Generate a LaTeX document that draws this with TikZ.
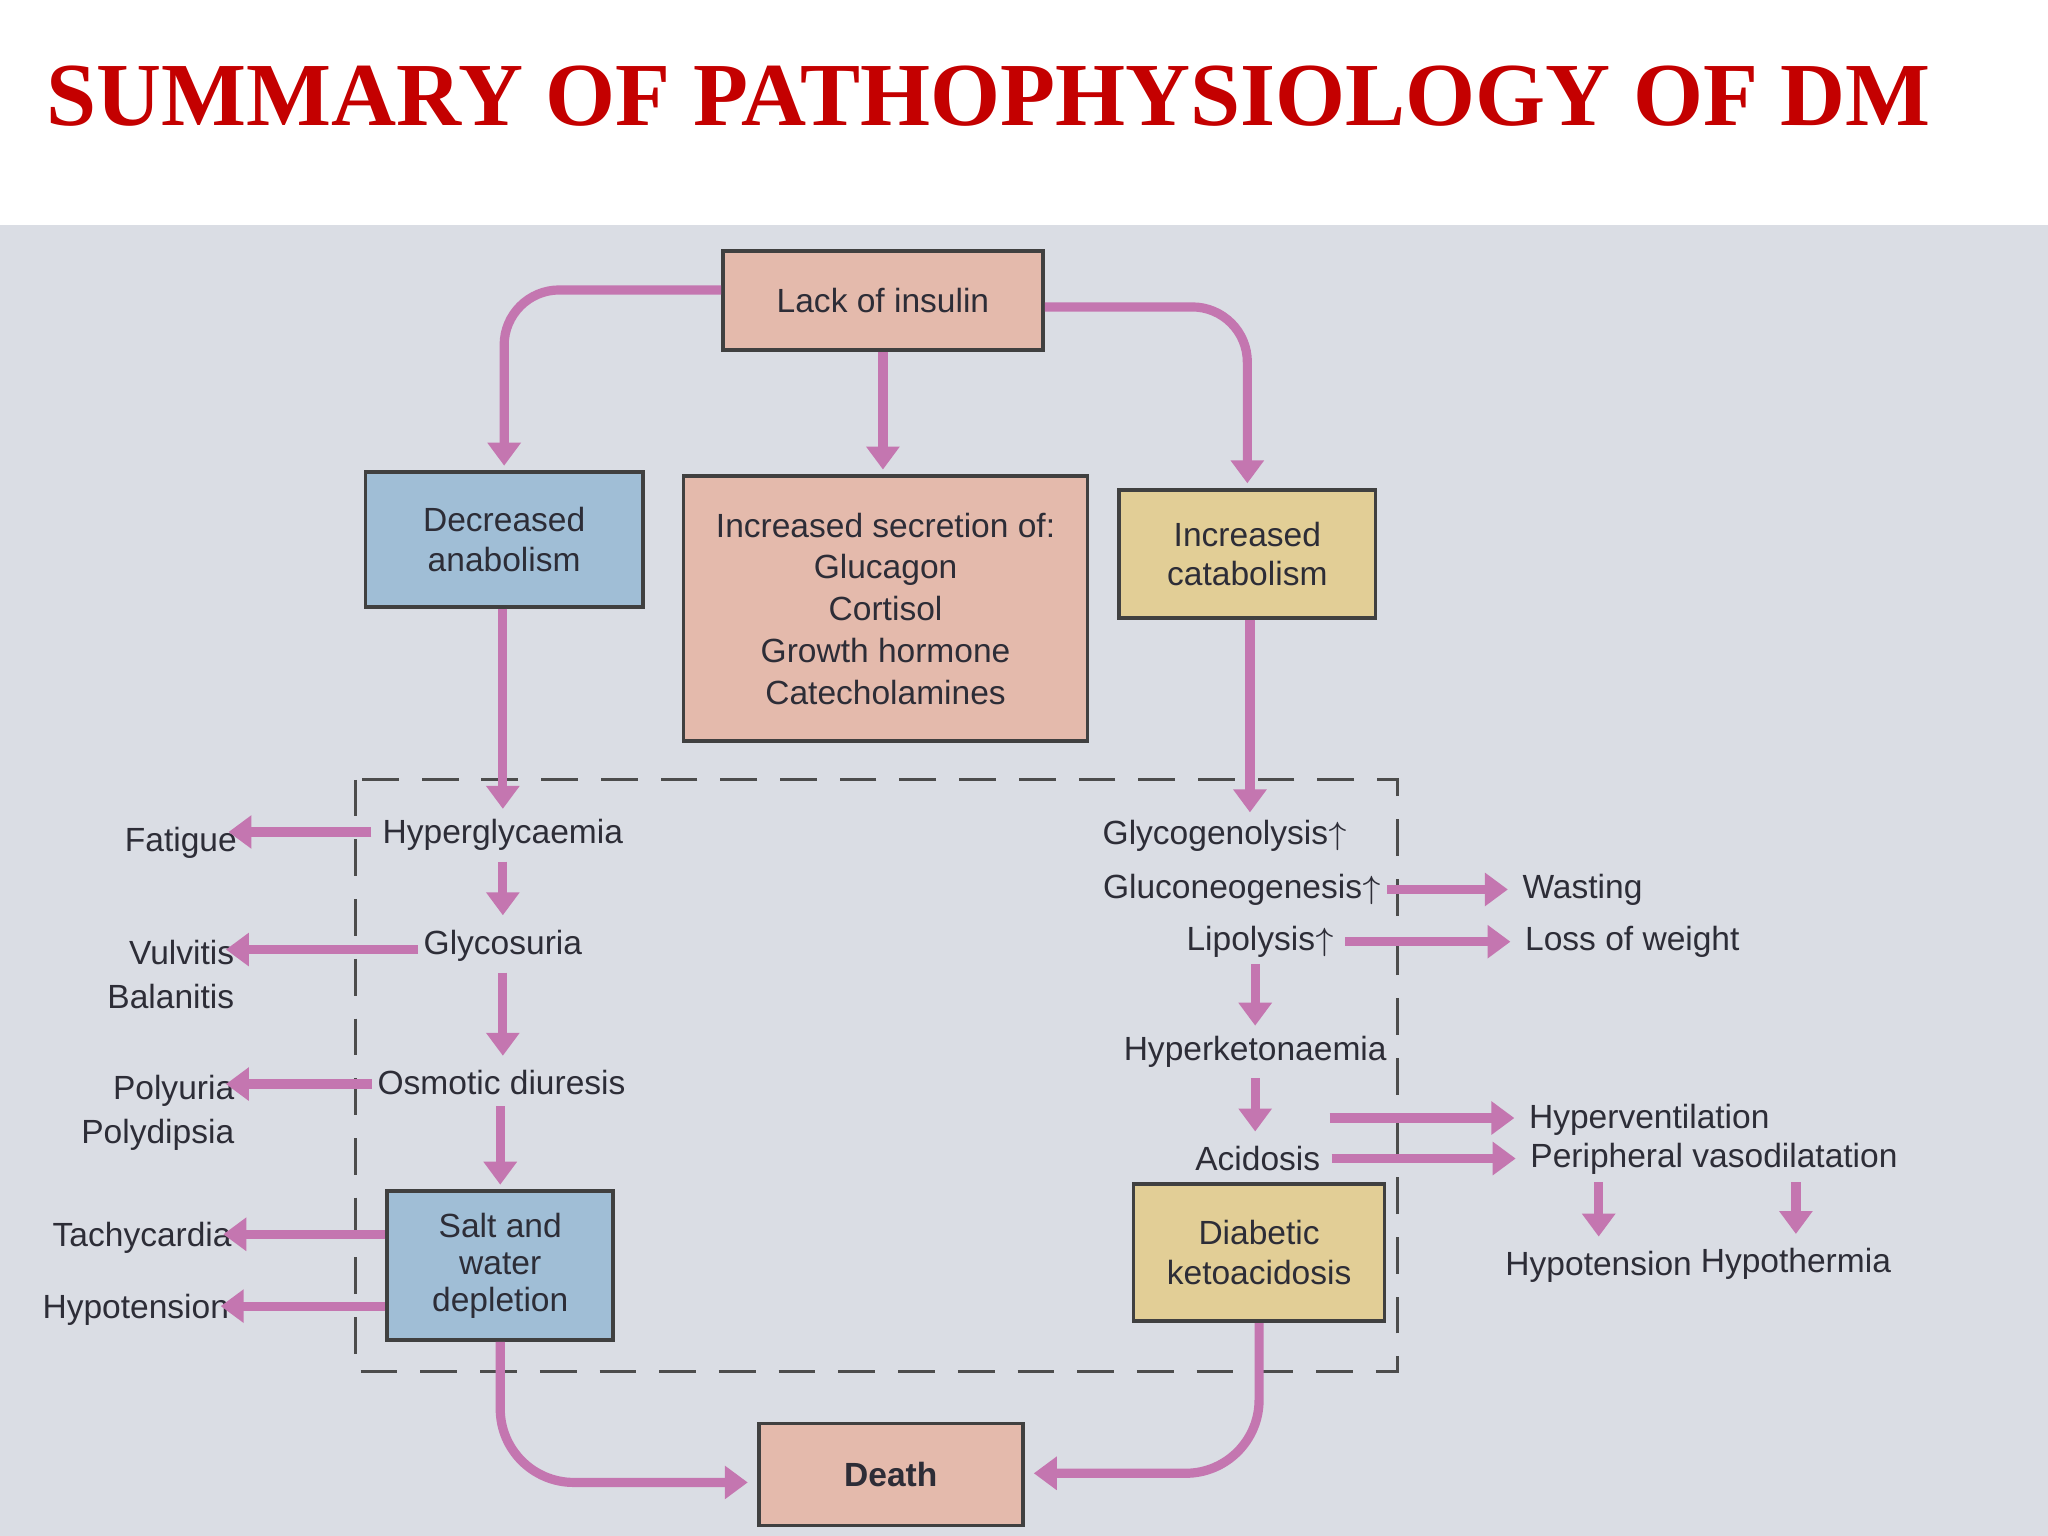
\documentclass[tikz,border=0pt]{standalone}
\usepackage{fontspec}
\setmainfont{Liberation Sans}
\newfontfamily\titlefont{Liberation Serif}
\usetikzlibrary{arrows.meta}
\definecolor{bg}{RGB}{218,221,228}
\definecolor{pinkbox}{RGB}{228,186,172}
\definecolor{bluebox}{RGB}{160,190,214}
\definecolor{tanbox}{RGB}{226,206,150}
\definecolor{arr}{RGB}{196,118,176}
\definecolor{titlered}{RGB}{196,0,0}
\definecolor{txt}{RGB}{45,45,55}
\tikzset{
  box/.style={draw=black!75,line width=0.8pt,inner sep=0pt,text=txt,align=center,font=\fontsize{7.3}{8.6}\selectfont},
  lbl/.style={inner sep=0pt,text=txt,font=\fontsize{7.3}{9.6}\selectfont,align=center},
  ar/.style={draw=arr,line width=2pt,-{Triangle[length=5pt,width=7pt]}},
  flow/.style={ar,rounded corners=12pt}
}
\begin{document}
\begin{tikzpicture}[x=0.01cm,y=-0.01cm]
\useasboundingbox (0,0) rectangle (1568,1176);
\fill[white] (0,0) rectangle (1568,172);
\fill[bg] (0,172) rectangle (1568,1176);
\node[anchor=base west,inner sep=0pt,text=titlered,font=\titlefont\bfseries\fontsize{19.6}{24}\selectfont] (title) at (35,96) {SUMMARY OF PATHOPHYSIOLOGY OF DM};
% boxes
\node[box,fill=pinkbox,minimum width=2.45cm,minimum height=0.76cm] (lack) at (676,230) {Lack of insulin};
\node[box,fill=bluebox,minimum width=2.12cm,minimum height=1.03cm] (dec) at (386,413) {Decreased\\anabolism};
\node[box,fill=pinkbox,minimum width=3.09cm,minimum height=2.03cm,font=\fontsize{7.3}{9.1}\selectfont] (sec) at (678,466) {Increased secretion of:\\Glucagon\\Cortisol\\Growth hormone\\Catecholamines};
\node[box,fill=tanbox,minimum width=1.96cm,minimum height=0.98cm] (cat) at (955,424) {Increased\\catabolism};
\node[box,fill=bluebox,minimum width=1.73cm,minimum height=1.14cm,font=\fontsize{7.3}{8.1}\selectfont] (salt) at (383,969) {Salt and\\water\\depletion};
\node[box,fill=tanbox,minimum width=1.92cm,minimum height=1.05cm] (dka) at (964,959) {Diabetic\\ketoacidosis};
\node[box,fill=pinkbox,minimum width=2.02cm,minimum height=0.78cm,font=\bfseries\fontsize{7.3}{9.2}\selectfont] (death) at (682,1129) {Death};
\draw[dashed,dash pattern=on 8pt off 5pt,black!70,line width=0.6pt] (272,597) rectangle (1070,1050);
% labels left column
\node[lbl] (hg) at (385,639) {Hyperglycaemia};
\node[lbl] (gs) at (385,724) {Glycosuria};
\node[lbl] (od) at (384,829) {Osmotic diuresis};
\node[lbl,anchor=east] (fat) at (182,645) {Fatigue};
\node[lbl,anchor=east,align=right] (vul) at (180,746) {Vulvitis\\Balanitis};
\node[lbl,anchor=east,align=right] (pol) at (180,852) {Polyuria\\Polydipsia};
\node[lbl,anchor=east] (tach) at (178,948) {Tachycardia};
\node[lbl,anchor=east] (hyp1) at (176,1003) {Hypotension};
% right column
\node[lbl,anchor=east] (glyco) at (1032,640) {Glycogenolysis$\uparrow$};
\node[lbl,anchor=east] (gneo) at (1058,681) {Gluconeogenesis$\uparrow$};
\node[lbl,anchor=east] (lipo) at (1022,721) {Lipolysis$\uparrow$};
\node[lbl,anchor=west] (wast) at (1165,681) {Wasting};
\node[lbl,anchor=west] (loss) at (1167,721) {Loss of weight};
\node[lbl] (hk) at (961,805) {Hyperketonaemia};
\node[lbl] (acid) at (963,887) {Acidosis};
\node[lbl,anchor=west] (hvent) at (1170,857) {Hyperventilation};
\node[lbl,anchor=west] (pvd) at (1171,887) {Peripheral vasodilatation};
\node[lbl] (hyp2) at (1224,970) {Hypotension};
\node[lbl] (hth) at (1375,968) {Hypothermia};
% connectors
\coordinate (lkL) at (lack.west |- 0,222);
\coordinate (lkR) at (lack.east |- 0,235);
\draw[flow] (lkL) -- (386,222) -- ([yshift=1pt]dec.north);
\draw[flow] (lkR) -- (955,235) -- ([yshift=1pt]cat.north);
\draw[ar] (lack.south) -- ([yshift=1pt]lack.south |- sec.north);
\draw[ar] (dec.south -| hg.north) -- ([yshift=2pt]hg.north);
\draw[ar] (957,0 |- cat.south) -- (957,622);
\draw[ar] (hg.south) ++(0,8) -- ([yshift=3pt]hg.south |- gs.north);
\draw[ar] (gs.south) ++(0,8) -- ([yshift=3pt]gs.south |- od.north);
\draw[ar] (salt.north |- od.south) ++(0,8) -- ([yshift=1pt]salt.north);
\draw[ar] (hg.west) ++(-8,-2) -- ([xshift=-2pt]fat.east |- 0,637);
\draw[ar] (gs.west) ++(-4,3) -- ([xshift=-2pt]vul.east |- 0,727);
\draw[ar] (od.west) ++(-4,1) -- ([xshift=-2pt]pol.east |- 0,830);
\draw[ar] (salt.west |- 0,945) -- ([xshift=-2pt]tach.east |- 0,945);
\draw[ar] (salt.west |- 0,1000) -- ([xshift=-2pt]hyp1.east |- 0,1000);
\draw[ar] (gneo.east) ++(4,0) -- ([xshift=-3pt]wast.west);
\draw[ar] (lipo.east) ++(8,0) -- ([xshift=-3pt]loss.west);
\draw[ar] (961,738) -- ([yshift=2pt]hk.north);
\draw[ar] (hk.south) ++(0,8) -- ([yshift=3pt]hk.south |- acid.north);
\coordinate (hvs) at (1018,856);
\draw[ar] (hvs) -- ([xshift=-3pt]hvent.west |- hvs);
\draw[ar] (acid.east) ++(8,0) -- ([xshift=-3pt]pvd.west |- acid.east);
\draw[ar] (1224,905) -- ([yshift=3pt]hyp2.north);
\draw[ar] (1375,905) -- ([yshift=3pt]hth.north);
\draw[flow,rounded corners=16pt] (salt.south) -- (383,1135) -- ([xshift=-2pt]death.west |- 0,1135);
\draw[flow,rounded corners=16pt] (dka.south) -- (964,1128) -- ([xshift=2pt]death.east |- 0,1128);
\end{tikzpicture}
\end{document}
